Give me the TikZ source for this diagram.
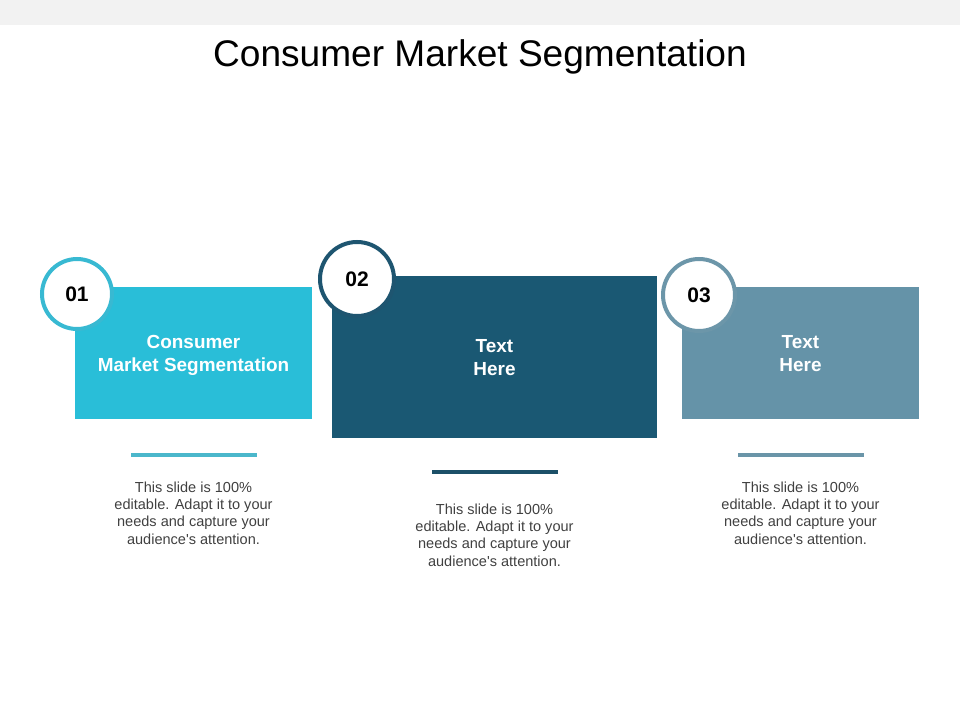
\documentclass[tikz,border=0pt]{standalone}
\usepackage{fontspec}
\setmainfont{Liberation Sans}
\usepackage{tikz}
\usetikzlibrary{positioning}

\definecolor{bandgray}{HTML}{F2F2F2}
\definecolor{blurbgray}{HTML}{404040}
\definecolor{panelA}{HTML}{29BED8}
\definecolor{ringA}{HTML}{38B9D2}
\definecolor{barA}{HTML}{4BB7CB}
\definecolor{panelB}{HTML}{1A5873}
\definecolor{ringB}{HTML}{1E5570}
\definecolor{barB}{HTML}{1C5068}
\definecolor{panelC}{HTML}{6593A8}
\definecolor{ringC}{HTML}{6C96A9}
\definecolor{barC}{HTML}{6A95A8}

\begin{document}
\begin{tikzpicture}[x=0.75pt,y=-0.75pt]
	\tikzset{
		panel/.style={inner sep=0,text=white,align=center,text depth=0pt,font=\fontsize{14.2}{17.25}\selectfont\bfseries},
		badge/.style={circle,draw,line width=3pt,fill=white,inner sep=0,font=\fontsize{15.75}{18}\selectfont\bfseries},
		bar/.style={inner sep=0,minimum width=94.5pt,minimum height=3pt},
		blurb/.style={inner sep=0,text=blurbgray,align=center,font=\fontsize{10.9}{13}\selectfont}
	}
	
	\useasboundingbox (0,0) rectangle (960,720);
	\fill[bandgray] (0,0) rectangle (960,25);
	\node[anchor=base,font=\fontsize{27.8}{33}\selectfont] (title) at (480,67) {Consumer Market Segmentation};
	
	\foreach \i/\c/\x/\y/\w/\h/\rx/\ry/\d/\by/\gap/\txt in {
		1/A/193.5/353/237/132/77/294/70/455/18pt/{Consumer\\Market Segmentation},
		2/B/494.5/357/325/162/357/279/74/472/21.75pt/{Text\\Here},
		3/C/800.5/353/237/132/699/295/72/455/18pt/{Text\\Here}}{
		\node[panel,fill=panel\c,minimum width=\w*0.75pt,minimum height=\h*0.75pt] (box\i) at (\x,\y) {\txt};
		\node[badge,draw=ring\c,minimum size=\d*0.75pt] (num\i) at (\rx,\ry) {0\i};
		\node[bar,fill=bar\c] (bar\i) at (\x,\by) {};
		\node[blurb,below=\gap of bar\i] (desc\i) {This slide is 100\%\\editable. Adapt it to your\\needs and capture your\\audience\textquotesingle s attention.};
	}
\end{tikzpicture}
\end{document}
